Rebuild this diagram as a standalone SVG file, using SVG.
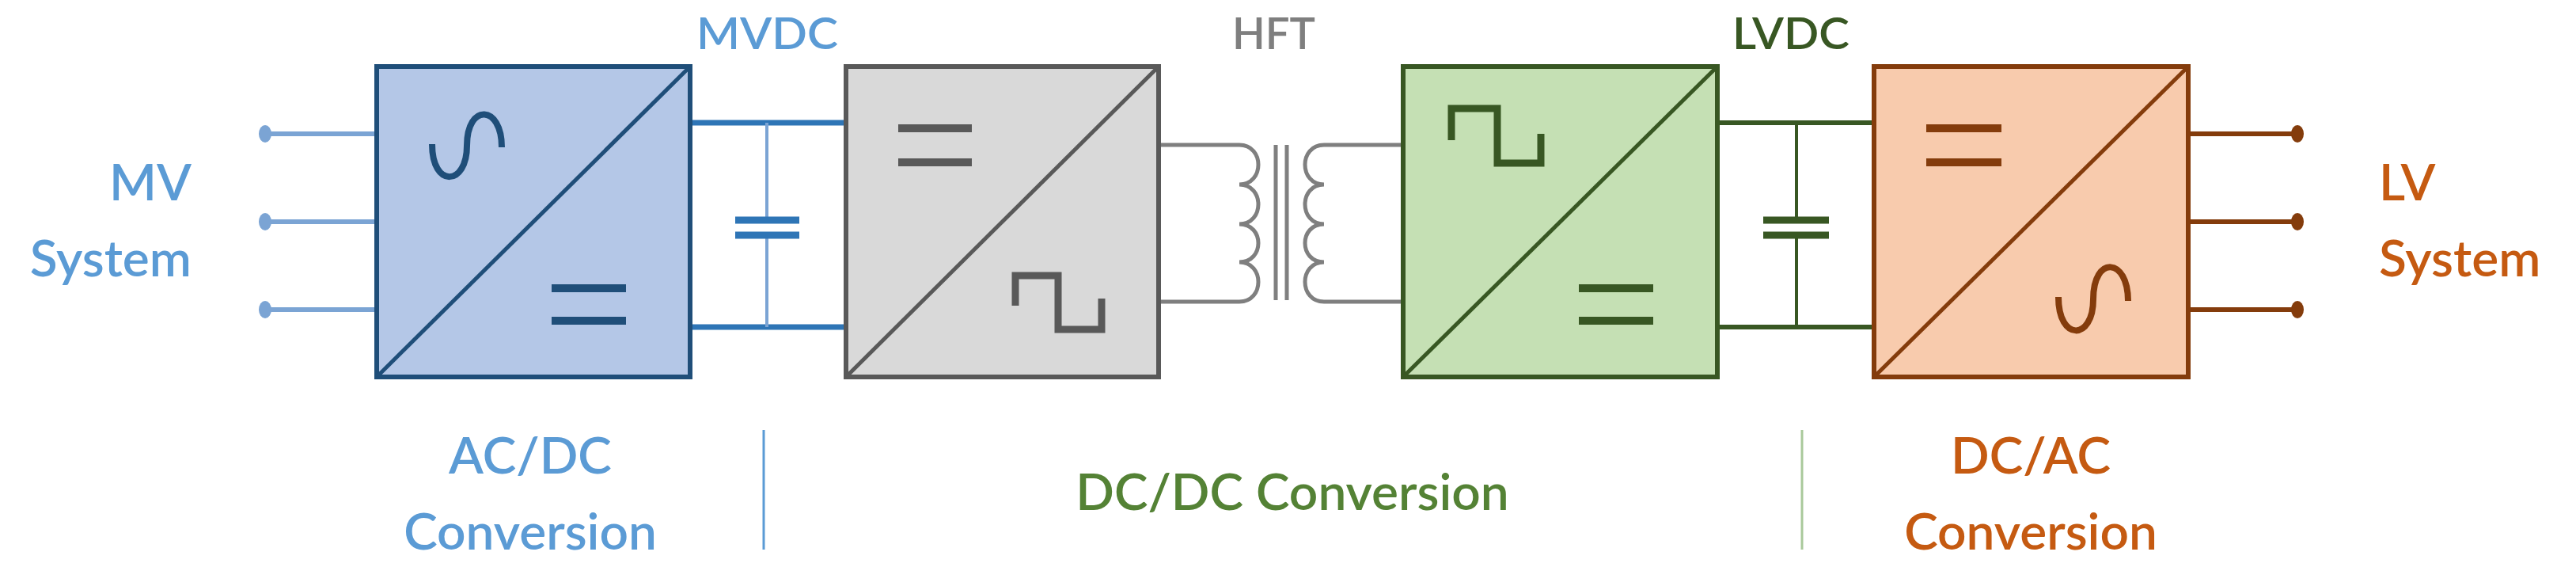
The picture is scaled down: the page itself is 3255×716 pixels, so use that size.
<svg xmlns="http://www.w3.org/2000/svg" width="3255" height="716" viewBox="0 0 3255 716">
<style>
text{font-family:Lato,"Open Sans","Liberation Sans",sans-serif;font-weight:600}
.big{font-size:64px}
.lab{font-size:56px}
.b{stroke:#1f4e79;fill:none}
.g{stroke:#595959;fill:none}
.gr{stroke:#385723;fill:none}
.o{stroke:#843c0c;fill:none}
</style>
<rect width="3255" height="716" fill="#fff"/>
<g id="connectors" fill="none">
  <g stroke="#7ba4d4" stroke-width="6">
    <line x1="335" y1="169" x2="476" y2="169"/><line x1="335" y1="280" x2="476" y2="280"/><line x1="335" y1="391" x2="476" y2="391"/>
  </g>
  <g fill="#7ba4d4"><ellipse cx="335" cy="169" rx="8" ry="11"/><ellipse cx="335" cy="280" rx="8" ry="11"/><ellipse cx="335" cy="391" rx="8" ry="11"/></g>
  <g stroke="#2e75b6" stroke-width="7"><line x1="872" y1="155" x2="1069" y2="155"/><line x1="872" y1="413" x2="1069" y2="413"/></g>
  <g stroke="#7ba4d4" stroke-width="4"><line x1="969" y1="155" x2="969" y2="278"/><line x1="969" y1="297" x2="969" y2="413"/></g>
  <g stroke="#2e75b6" stroke-width="9"><line x1="929" y1="278" x2="1010" y2="278"/><line x1="929" y1="297" x2="1010" y2="297"/></g>
  <g stroke="#7f7f7f" stroke-width="5">
    <path d="M1464,183 H1566 M1464,381 H1566"/>
    <path d="M1566,183 C1598,183 1598,233 1566,233 C1598,233 1598,283 1566,283 C1598,283 1598,331 1566,331 C1598,331 1598,381 1566,381"/>
    <line x1="1612" y1="183" x2="1612" y2="379"/><line x1="1626" y1="183" x2="1626" y2="379"/>
    <path d="M1673,183 C1641,183 1641,233 1673,233 C1641,233 1641,283 1673,283 C1641,283 1641,331 1673,331 C1641,331 1641,381 1673,381"/>
    <path d="M1673,183 H1773 M1673,381 H1773"/>
  </g>
  <g stroke="#385723" stroke-width="6"><line x1="2170" y1="155" x2="2368" y2="155"/><line x1="2170" y1="413" x2="2368" y2="413"/></g>
  <g stroke="#385723" stroke-width="4"><line x1="2270" y1="155" x2="2270" y2="278"/><line x1="2270" y1="297" x2="2270" y2="413"/></g>
  <g stroke="#385723" stroke-width="9"><line x1="2228" y1="278" x2="2311" y2="278"/><line x1="2228" y1="297" x2="2311" y2="297"/></g>
  <g stroke="#843c0c" stroke-width="6">
    <line x1="2765" y1="169" x2="2903" y2="169"/><line x1="2765" y1="280" x2="2903" y2="280"/><line x1="2765" y1="391" x2="2903" y2="391"/>
  </g>
  <g fill="#843c0c"><ellipse cx="2903" cy="169" rx="8" ry="11"/><ellipse cx="2903" cy="280" rx="8" ry="11"/><ellipse cx="2903" cy="391" rx="8" ry="11"/></g>
</g>
<g id="acdc">
  <rect x="476" y="84" width="396" height="392" fill="#b4c7e7" stroke="#1f4e79" stroke-width="6"/>
  <line class="b" x1="476" y1="476" x2="872" y2="84" stroke-width="5"/>
  <path class="b" stroke-width="8" d="M546,182 C546,238 590,235 590,184 C590,130 634,132 634,186"/>
  <line class="b" stroke-width="10" x1="697" y1="364" x2="791" y2="364"/><line class="b" stroke-width="10" x1="697" y1="405" x2="791" y2="405"/>
</g>
<g id="dcac-hf">
  <rect x="1069" y="84" width="395" height="392" fill="#d9d9d9" stroke="#595959" stroke-width="6"/>
  <line class="g" x1="1069" y1="476" x2="1464" y2="84" stroke-width="5"/>
  <line class="g" stroke-width="10" x1="1135" y1="162" x2="1228" y2="162"/><line class="g" stroke-width="10" x1="1135" y1="205" x2="1228" y2="205"/>
  <path class="g" stroke-width="9" d="M1283,386 V348 H1337 V416 H1392 V377"/>
</g>
<g id="hfdc">
  <rect x="1773" y="84" width="397" height="392" fill="#c5e0b4" stroke="#385723" stroke-width="6"/>
  <line class="gr" x1="1773" y1="476" x2="2170" y2="84" stroke-width="5"/>
  <path class="gr" stroke-width="9" d="M1834,177 V137 H1892 V206 H1947 V169"/>
  <line class="gr" stroke-width="10" x1="1995" y1="364" x2="2089" y2="364"/><line class="gr" stroke-width="10" x1="1995" y1="405" x2="2089" y2="405"/>
</g>
<g id="dcac">
  <rect x="2368" y="84" width="397" height="392" fill="#f8cbad" stroke="#843c0c" stroke-width="6"/>
  <line class="o" x1="2368" y1="476" x2="2765" y2="84" stroke-width="5"/>
  <line class="o" stroke-width="10" x1="2434" y1="162" x2="2529" y2="162"/><line class="o" stroke-width="10" x1="2434" y1="205" x2="2529" y2="205"/>
  <path class="o" stroke-width="8" d="M2601,375 C2601,432 2645,430 2645,378 C2645,322 2689,325 2689,380"/>
</g>
<g id="labels">
  <text class="lab" x="880" y="62" fill="#5b9bd5" textLength="179" lengthAdjust="spacingAndGlyphs">MVDC</text>
  <text class="lab" x="1557" y="62" fill="#7f7f7f" textLength="105" lengthAdjust="spacingAndGlyphs">HFT</text>
  <text class="lab" x="2189" y="62" fill="#385723" textLength="148" lengthAdjust="spacingAndGlyphs">LVDC</text>
  <text class="big" x="242" y="253" fill="#5b9bd5" text-anchor="end">MV</text>
  <text class="big" x="242" y="349" fill="#5b9bd5" text-anchor="end">System</text>
  <text class="big" x="3006" y="253" fill="#c55a11">LV</text>
  <text class="big" x="3006" y="349" fill="#c55a11">System</text>
  <text class="big" x="670" y="598" fill="#5b9bd5" text-anchor="middle">AC/DC</text>
  <text class="big" x="670" y="694" fill="#5b9bd5" text-anchor="middle">Conversion</text>
  <text class="big" x="1633" y="644" fill="#548235" text-anchor="middle">DC/DC Conversion</text>
  <text class="big" x="2566" y="598" fill="#c55a11" text-anchor="middle">DC/AC</text>
  <text class="big" x="2566" y="694" fill="#c55a11" text-anchor="middle">Conversion</text>
  <line x1="965" y1="543" x2="965" y2="694" stroke="#5b9bd5" stroke-width="3"/>
  <line x1="2277" y1="543" x2="2277" y2="694" stroke="#a9c99a" stroke-width="3"/>
</g>
</svg>
